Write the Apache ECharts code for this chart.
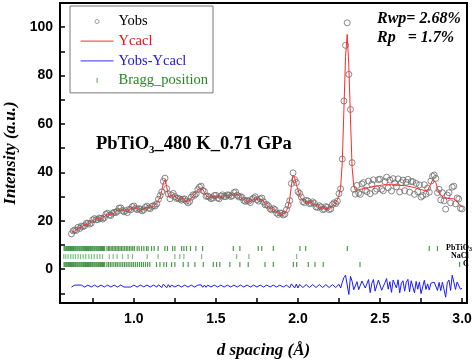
<!DOCTYPE html>
<html><head><meta charset="utf-8">
<script src="https://cdn.jsdelivr.net/npm/echarts@6/dist/echarts.min.js"></script>
<style>html,body{margin:0;padding:0;background:#fff}#c{width:474px;height:362px}</style>
</head><body><div id="c"></div>
<script>
// ---- data ----
const dSpacing = [0.62,0.63,0.64,0.65,0.66,0.67,0.68,0.69,
0.70,0.71,0.72,0.73,0.74,0.75,0.76,0.77,0.78,0.79,
0.80,0.81,0.82,0.83,0.84,0.85,0.86,0.87,0.88,0.89,
0.90,0.91,0.92,0.93,0.94,0.95,0.96,0.97,0.98,0.99,
1.00,1.01,1.02,1.03,1.04,1.05,1.06,1.07,1.08,1.09,
1.10,1.11,1.12,1.13,1.14,1.15,1.16,1.17,1.18,1.19,
1.20,1.21,1.22,1.23,1.24,1.25,1.26,1.27,1.28,1.29,
1.30,1.31,1.32,1.33,1.34,1.35,1.36,1.37,1.38,1.39,
1.40,1.41,1.42,1.43,1.44,1.45,1.46,1.47,1.48,1.49,
1.50,1.51,1.52,1.53,1.54,1.55,1.56,1.57,1.58,1.59,
1.60,1.61,1.62,1.63,1.64,1.65,1.66,1.67,1.68,1.69,
1.70,1.71,1.72,1.73,1.74,1.75,1.76,1.77,1.78,1.79,
1.80,1.81,1.82,1.83,1.84,1.85,1.86,1.87,1.88,1.89,
1.90,1.91,1.92,1.93,1.94,1.95,1.96,1.97,1.98,1.99,
2.00,2.01,2.02,2.03,2.04,2.05,2.06,2.07,2.08,2.09,
2.10,2.11,2.12,2.13,2.14,2.15,2.16,2.17,2.18,2.19,
2.20,2.21,2.22,2.23,2.24,2.25,2.26,2.27,2.28,2.29,
2.30,2.31,2.32,2.33,2.34,2.35,2.36,2.37,2.38,2.39,
2.40,2.41,2.42,2.43,2.44,2.45,2.46,2.47,2.48,2.49,
2.50,2.51,2.52,2.53,2.54,2.55,2.56,2.57,2.58,2.59,
2.60,2.61,2.62,2.63,2.64,2.65,2.66,2.67,2.68,2.69,
2.70,2.71,2.72,2.73,2.74,2.75,2.76,2.77,2.78,2.79,
2.80,2.81,2.82,2.83,2.84,2.85,2.86,2.87,2.88,2.89,
2.90,2.91,2.92,2.93,2.94,2.95,2.96,2.97,2.98,2.99,
3.00];
const yCalc = [15.0,15.4,15.8,16.4,16.9,17.1,17.4,17.9,
18.3,18.5,18.6,18.9,19.4,20.0,20.5,20.8,20.9,20.7,
20.6,21.1,21.7,22.3,22.7,22.7,22.6,22.7,23.1,23.8,
24.4,24.8,24.9,24.6,24.1,23.8,23.8,24.3,24.9,25.4,
25.7,25.5,25.0,24.6,24.4,24.5,24.8,25.2,25.6,25.6,
25.4,25.5,25.9,26.5,27.4,28.4,29.8,32.5,35.5,37.0,
34.0,30.5,29.6,30.2,30.8,30.4,29.6,28.9,28.6,28.9,
29.4,28.6,27.6,27.8,28.4,29.3,30.2,30.9,31.6,32.5,
33.4,33.8,33.0,31.7,30.6,29.8,29.3,29.5,29.8,30.0,
30.0,29.8,29.6,29.8,30.2,30.4,30.5,30.3,30.1,30.4,
30.8,31.2,31.4,30.9,30.3,29.6,29.1,28.8,28.5,28.0,
27.6,27.9,28.5,29.0,29.4,29.1,28.6,28.6,28.9,28.2,
27.1,26.3,25.6,25.3,25.0,24.6,24.1,23.6,23.1,22.8,
22.6,22.8,23.2,24.2,25.8,29.0,34.5,38.8,37.8,35.0,
32.8,30.6,29.1,28.5,28.1,27.8,27.6,27.7,27.8,27.2,
26.6,26.3,26.1,25.6,25.1,25.2,25.4,25.2,25.0,25.2,
25.5,26.1,26.8,27.7,28.7,30.5,34.0,44.0,66.0,88.0,
97.0,84.0,62.0,42.0,34.5,32.6,32.8,32.9,33.0,33.1,
33.3,33.4,33.6,33.7,33.9,34.0,34.2,34.3,34.4,34.5,
34.6,34.7,34.8,34.8,34.9,34.9,35.0,34.9,34.9,34.8,
34.8,34.7,34.7,34.6,34.6,34.5,34.4,34.3,34.2,34.0,
33.9,33.7,33.5,33.3,33.1,32.9,32.7,32.5,32.4,32.6,
33.4,35.2,36.8,37.3,35.8,33.4,31.5,30.5,30.0,29.6,
29.4,29.2,29.1,29.2,29.4,29.0,28.4,27.7,27.0,26.4,
25.8];
const yObs = [14.6,15.8,16.2,16.0,17.3,16.8,17.8,17.6,
17.9,18.9,19.0,18.6,19.0,20.4,20.9,20.4,20.5,21.1,
21.0,20.7,21.3,22.7,23.1,22.3,22.2,23.1,23.5,23.4,
24.0,25.2,25.3,24.2,23.7,24.2,23.4,24.7,24.5,25.8,
26.1,25.1,24.6,25.0,24.8,24.1,24.5,25.6,26.0,25.2,
25.0,25.9,26.3,26.1,27.0,28.9,30.4,31.9,36.3,37.6,
33.3,31.1,29.1,30.6,31.3,30.0,29.2,29.3,29.0,28.5,
28.9,29.0,28.1,27.4,28.0,29.7,30.7,30.5,31.1,32.9,
33.9,34.3,32.5,32.1,30.1,30.2,29.8,29.1,29.4,30.4,
30.5,29.4,29.1,30.2,30.7,30.0,30.0,30.7,30.6,30.0,
30.3,31.6,31.9,30.5,29.8,30.0,29.6,28.4,28.0,28.4,
28.1,27.5,28.9,29.4,29.9,28.7,28.1,29.0,29.4,27.8,
26.6,26.7,26.1,24.9,24.5,25.0,24.6,23.2,22.6,23.2,
23.1,22.4,22.7,24.6,26.4,28.3,35.4,39.8,37.0,35.8,
32.0,31.3,29.8,27.9,27.5,28.4,28.2,27.1,27.2,27.8,
27.2,25.7,25.5,26.2,25.7,24.6,24.8,25.8,25.6,24.6,
24.9,26.7,27.4,27.1,28.1,31.2,33.2,45.5,69.5,92.5,
101.8,80.5,66.0,44.0,33.0,31.0,34.6,31.4,30.9,35.2,
35.8,32.6,32.0,36.4,31.2,35.1,36.9,32.2,33.1,37.0,
37.2,33.0,32.4,36.2,38.0,33.6,36.8,32.3,37.4,35.6,
34.0,37.3,31.9,35.8,36.8,32.4,35.9,37.1,31.8,36.2,
36.2,30.9,35.4,32.0,34.8,29.8,30.4,34.9,31.0,33.5,
31.8,36.4,38.4,38.9,37.5,31.6,33.0,28.6,31.6,28.2,
24.8,30.6,31.6,27.4,33.9,34.3,27.0,29.4,29.0,25.1,
24.9];
const diffOffset = -7;
const braggPbTiO3 = [0.575,0.581,0.588,0.594,0.601,0.607,0.614,0.620,0.627,0.633,0.640,0.646,0.653,0.659,0.666,0.672,0.679,0.685,0.692,0.698,0.705,0.711,0.718,0.724,0.731,0.737,0.744,0.750,0.757,0.763,0.770,0.776,0.783,0.789,0.796,0.802,0.809,0.815,0.822,
0.836,0.845,0.853,0.862,0.871,0.880,0.889,0.898,0.907,0.916,0.925,0.934,0.944,0.954,0.963,0.973,0.983,0.993,1.003,
1.020,1.032,1.047,1.061,1.077,1.087,1.108,1.124,1.148,1.189,1.205,1.236,1.250,1.291,1.305,1.321,1.345,1.378,1.419,
1.606,1.646,1.758,1.779,1.850,2.012,2.047,2.301,2.800,2.850];
const braggNaCl = [0.573,0.585,0.599,0.616,0.630,0.644,0.660,0.675,0.691,0.707,0.726,0.742,0.758,0.776,0.793,0.809,
0.850,0.874,0.898,0.931,0.965,0.992,1.081,1.148,1.250,1.280,1.305,1.413,1.626,1.701,1.992];
const braggC = [0.575,0.581,0.588,0.594,0.601,0.607,0.614,0.620,0.627,0.633,0.640,0.646,0.653,0.659,0.666,0.672,0.679,0.685,0.692,0.698,0.705,0.711,0.718,0.724,0.731,0.737,0.744,0.750,0.757,0.763,0.770,0.776,0.783,0.789,0.796,0.802,0.809,0.815,0.822,
0.836,0.846,0.857,0.867,0.878,0.889,0.899,0.910,0.921,0.932,0.943,0.954,0.965,0.976,0.987,0.998,1.010,1.022,1.034,1.046,1.058,1.071,1.084,1.097,
1.138,1.159,1.183,1.199,1.230,1.250,1.301,1.331,1.372,1.423,1.484,1.504,1.524,1.585,1.646,1.697,1.799,1.850,1.972,1.992,2.063,2.104,2.154,2.378,2.985];
const braggRowY = [8.5, 5.2, 1.9];
const xTickValues = [0.75,1.0,1.25,1.5,1.75,2.0,2.25,2.5,2.75,3.0];
const xLabelValues = [1.0,1.5,2.0,2.5,3.0];
const yTickValues = [-10,0,10,20,30,40,50,60,70,80,90,100];
const yLabelValues = [0,20,40,60,80,100];

// ---- build ----
const obsData = dSpacing.map((d,i)=>[d,yObs[i]]);
const calcData = dSpacing.map((d,i)=>[d,yCalc[i]]);
const diffData = dSpacing.map((d,i)=>[d,yObs[i]-yCalc[i]+diffOffset]);

function measure(t,f){const c=document.createElement('canvas').getContext('2d');c.font=f;return c.measureText(t).width;}
const serif='"Liberation Serif","Times New Roman",serif';
const tFont='bold 18.5px '+serif, tSub='bold 11px '+serif;
const w1=measure('PbTiO',tFont), w2=measure('3',tSub);
const pFont='bold 8px '+serif, pSub='bold 6px '+serif;
const pw1=measure('PbTiO',pFont);

const axisLbl={fontFamily:'"Liberation Sans",Arial,sans-serif',fontWeight:'bold',fontSize:14,color:'#000'};
const nameStyle={fontFamily:serif,fontStyle:'italic',fontWeight:'bold',fontSize:17,color:'#000'};
const green='#2a8a2a', red='#ff2a2a', blue='#1a1aff';

const chart=echarts.init(document.getElementById('c'),null,{renderer:'canvas'});
chart.setOption({
  animation:false,
  backgroundColor:'#fff',
  grid:{left:60,right:7,top:3,bottom:59,show:true,borderColor:'#000',borderWidth:2,outerBoundsMode:'none'},
  xAxis:{type:'value',min:0.55,max:3.03,
    axisLine:{show:true,onZero:false,lineStyle:{color:'#000',width:2}},
    axisTick:{show:true,inside:true,length:5,customValues:xTickValues,lineStyle:{color:'#000',width:1.5}},
    axisLabel:Object.assign({customValues:xLabelValues,margin:9,formatter:v=>v.toFixed(1)},axisLbl),
    splitLine:{show:false},
    name:'d spacing (Å)',nameLocation:'middle',nameGap:39,nameTextStyle:nameStyle},
  yAxis:{type:'value',min:-14,max:110,
    axisLine:{show:true,onZero:false,lineStyle:{color:'#000',width:2}},
    axisTick:{show:true,inside:true,length:5,customValues:yTickValues,lineStyle:{color:'#000',width:1.5}},
    axisLabel:Object.assign({customValues:yLabelValues,margin:7},axisLbl),
    splitLine:{show:false},
    name:'Intensity (a.u.)',nameLocation:'middle',nameGap:38,nameTextStyle:nameStyle},
  legend:{orient:'vertical',left:70,top:6,padding:[8,5,5,10],itemGap:4.5,itemWidth:33,itemHeight:14,
    borderColor:'#777',borderWidth:1,backgroundColor:'#fff',
    textStyle:{fontFamily:serif,fontSize:14.5},
    data:[
      {name:'Yobs',icon:'path://M0,0M33,14M14.5,7a2,2 0 1,0 4,0a2,2 0 1,0 -4,0',itemStyle:{color:'rgba(0,0,0,0)',borderColor:'#888',borderWidth:1},textStyle:{color:'#000'}},
      {name:'Ycacl',icon:'path://M0,0M33,14M0,7L33,7',itemStyle:{color:'rgba(0,0,0,0)',borderColor:'#f05a5a',borderWidth:1.2},textStyle:{color:'#e01515'}},
      {name:'Yobs-Ycacl',icon:'path://M0,0M33,14M0,7L33,7',itemStyle:{color:'rgba(0,0,0,0)',borderColor:'#5a5af0',borderWidth:1.2},textStyle:{color:'#1a1ad0'}},
      {name:'Bragg_position',icon:'path://M0,0M33,14M16.5,4.5L16.5,9.5',itemStyle:{color:'rgba(0,0,0,0)',borderColor:green,borderWidth:1},textStyle:{color:'#228b22'}}
    ]},
  series:[
    {name:'Yobs',type:'scatter',data:obsData,symbol:'circle',symbolSize:6,
      itemStyle:{color:'rgba(0,0,0,0)',borderColor:'#6a6a6a',borderWidth:1},silent:true,z:2},
    {name:'Ycacl',type:'line',data:calcData,symbol:'none',color:red,lineStyle:{color:red,width:1},silent:true,z:3},
    {name:'Yobs-Ycacl',type:'line',data:diffData,symbol:'none',color:blue,lineStyle:{color:blue,width:1},silent:true,z:3},
    {name:'Bragg_position',type:'scatter',data:braggPbTiO3.map(d=>[d,braggRowY[0]]),symbol:'rect',symbolSize:[1.2,5],itemStyle:{color:'#1f7f1f'},silent:true},
    {name:'Bragg_position',type:'scatter',data:braggNaCl.map(d=>[d,braggRowY[1]]),symbol:'rect',symbolSize:[1.2,5],itemStyle:{color:'#5fae5f'},silent:true},
    {name:'Bragg_position',type:'scatter',data:braggC.map(d=>[d,braggRowY[2]]),symbol:'rect',symbolSize:[1.2,5],itemStyle:{color:'#1f7f1f'},silent:true}
  ],
  graphic:[
    {type:'text',x:96,y:144.7,style:{text:'PbTiO',font:tFont,fill:'#000',verticalAlign:'middle'}},
    {type:'text',x:96+w1,y:150.5,style:{text:'3',font:tSub,fill:'#000',verticalAlign:'middle'}},
    {type:'text',x:96+w1+w2,y:144.7,style:{text:'_480 K_0.71 GPa',font:tFont,fill:'#000',verticalAlign:'middle'}},
    {type:'text',x:377,y:18.7,style:{text:'Rwp= 2.68%',font:'italic bold 16px '+serif,fill:'#000',verticalAlign:'middle'}},
    {type:'text',x:377,y:37.7,style:{text:'Rp   = 1.7%',font:'italic bold 16px '+serif,fill:'#000',verticalAlign:'middle'}},
    {type:'text',x:446,y:247.5,style:{text:'PbTiO',font:pFont,fill:'#000',verticalAlign:'middle'}},
    {type:'text',x:446+pw1,y:249.5,style:{text:'3',font:pSub,fill:'#000',verticalAlign:'middle'}},
    {type:'text',x:451,y:256,style:{text:'NaCl',font:pFont,fill:'#000',verticalAlign:'middle'}},
    {type:'text',x:463,y:264,style:{text:'C',font:pFont,fill:'#000',verticalAlign:'middle'}}
  ]
});
</script></body></html>
